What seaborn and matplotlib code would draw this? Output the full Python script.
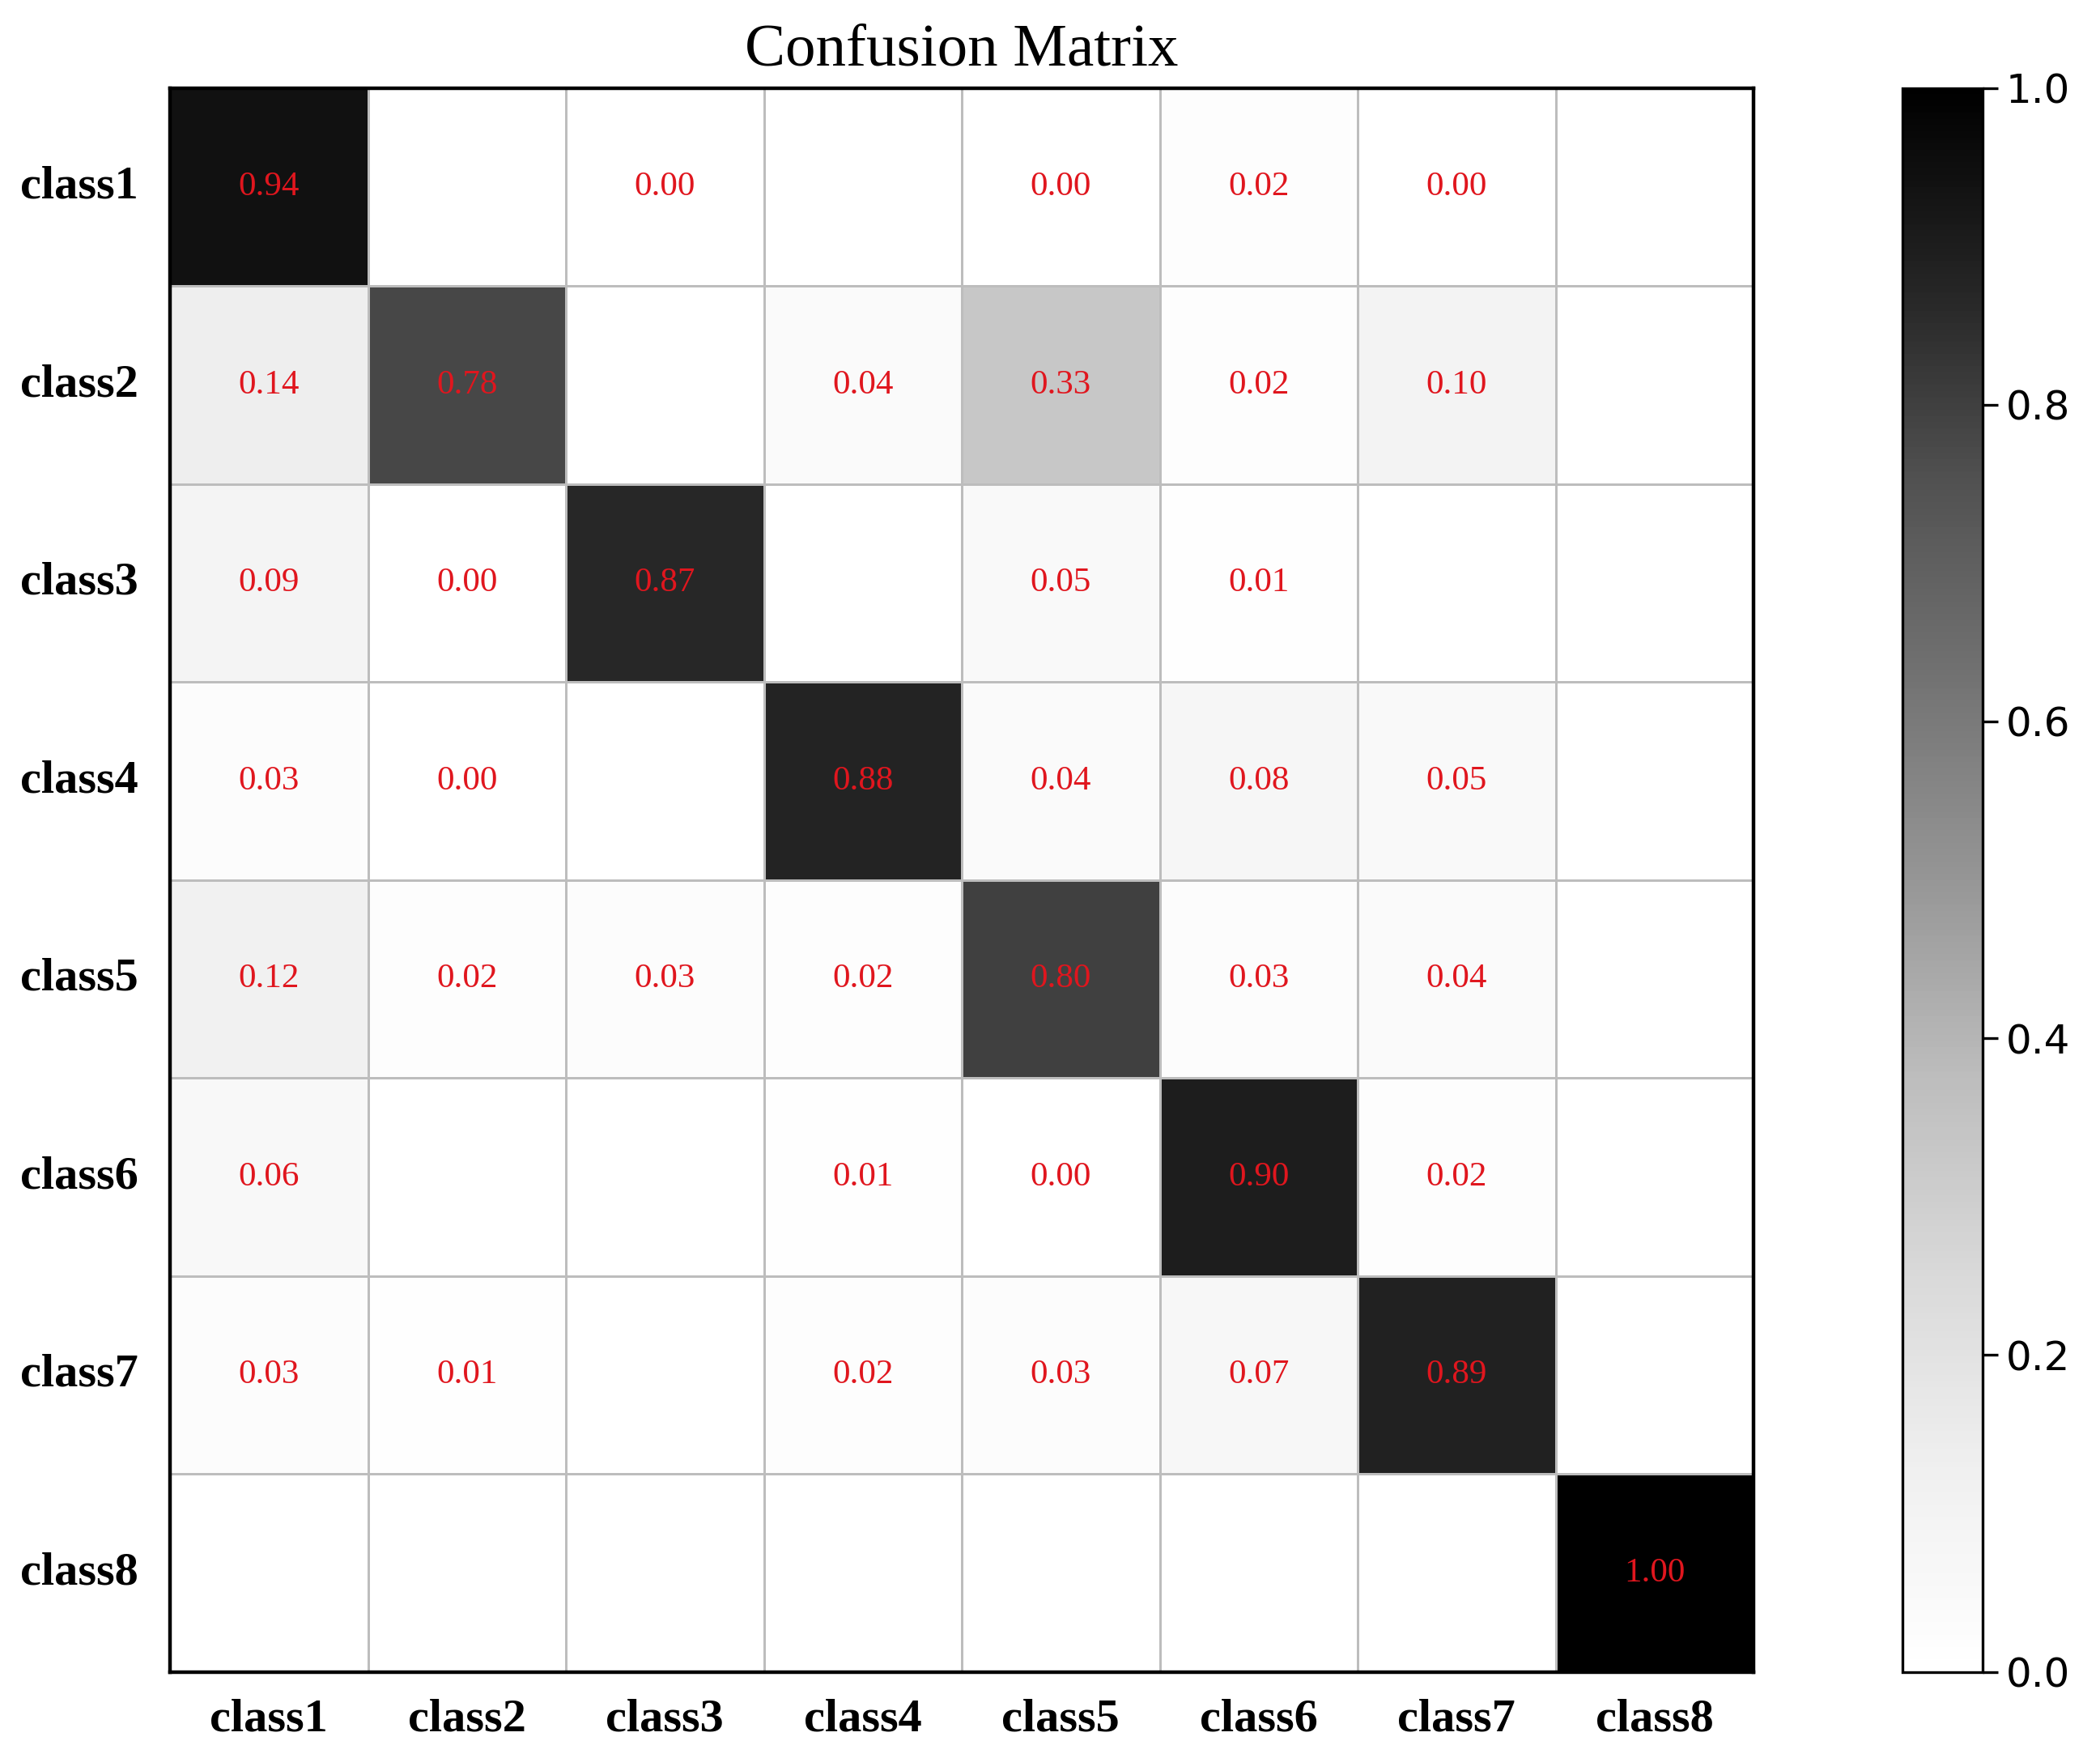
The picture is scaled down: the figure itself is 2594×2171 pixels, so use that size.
import numpy as np
import pandas as pd
import matplotlib
matplotlib.use("Agg")
import matplotlib.pyplot as plt
import seaborn as sns

classes = ["class1", "class2", "class3", "class4", "class5", "class6", "class7", "class8"]

# None = empty cell (no annotation)
row1 = [0.94, None, 0.00, None, 0.00, 0.02, 0.00, None]
row2 = [0.14, 0.78, None, 0.04, 0.33, 0.02, 0.10, None]
row3 = [0.09, 0.00, 0.87, None, 0.05, 0.01, None, None]
row4 = [0.03, 0.00, None, 0.88, 0.04, 0.08, 0.05, None]
row5 = [0.12, 0.02, 0.03, 0.02, 0.80, 0.03, 0.04, None]
row6 = [0.06, None, None, 0.01, 0.00, 0.90, 0.02, None]
row7 = [0.03, 0.01, None, 0.02, 0.03, 0.07, 0.89, None]
row8 = [None, None, None, None, None, None, None, 1.00]
rows = [row1, row2, row3, row4, row5, row6, row7, row8]

values = np.array([[0.0 if v is None else v for v in r] for r in rows])
annot = np.array([["" if v is None else f"{v:.2f}" for v in r] for r in rows])
df = pd.DataFrame(values, index=classes, columns=classes)

sns.set_theme(style="white")
plt.rcParams["text.color"] = "black"
fig = plt.figure(figsize=(12.97, 10.855), dpi=200)
ax = fig.add_axes([0.081, 0.049, 0.754, 0.901])
cax = fig.add_axes([0.906, 0.049, 0.038, 0.901])

sns.heatmap(df, ax=ax, cbar_ax=cax, cmap="Greys", vmin=0, vmax=1,
            annot=annot, fmt="", linewidths=1, linecolor="#bdbdbd",
            annot_kws={"color": "#e0161e", "fontsize": 15.5, "family": "Liberation Serif"})

for s in ax.spines.values():
    s.set_visible(True)
    s.set_color("black")
    s.set_linewidth(1.6)

ax.tick_params(axis="both", length=0)
ax.tick_params(axis="x", pad=12)
ax.tick_params(axis="y", pad=14)
ax.set_xticklabels(classes, rotation=0, fontsize=21, fontweight="bold",
                   family="Liberation Serif", color="black")
ax.set_yticklabels(classes, rotation=0, fontsize=21, fontweight="bold",
                   family="Liberation Serif", color="black")
ax.set_xlabel("")
ax.set_ylabel("")
ax.set_title("Confusion Matrix", fontsize=27, family="Liberation Serif", pad=10, color="black")

cb = ax.collections[0].colorbar
cb.set_ticks([0.0, 0.2, 0.4, 0.6, 0.8, 1.0])
cb.ax.tick_params(labelsize=18, length=7, width=1.2, color="black", direction="out",
                  labelcolor="black")
cb.outline.set_visible(True)
cb.outline.set_edgecolor("black")
cb.outline.set_linewidth(1.2)
for lab in cb.ax.get_yticklabels():
    lab.set_family("DejaVu Sans")

fig.savefig("out.png", dpi=200)
